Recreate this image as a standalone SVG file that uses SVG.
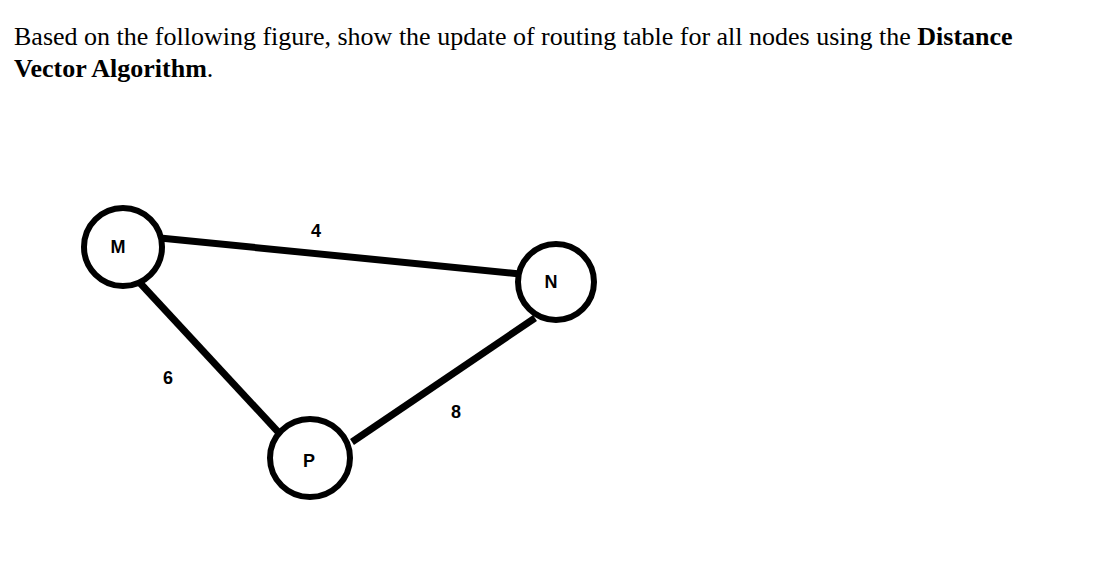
<svg xmlns="http://www.w3.org/2000/svg" width="1108" height="586" viewBox="0 0 1108 586">
<style>
.t{font-family:"Liberation Serif",serif;font-size:26px;fill:#000}
.n{fill:#fff;stroke:#000;stroke-width:6}
.l{font-family:"Liberation Sans",Arial,sans-serif;font-weight:bold;font-size:18px;fill:#000;text-anchor:middle}
.e{stroke:#000;stroke-width:7;fill:none}
</style>
<rect width="1108" height="586" fill="#fff"/>
<text class="t" x="14" y="45">Based on the following figure, show the update of routing table for all nodes using the <tspan font-weight="bold">Distance</tspan></text>
<text class="t" x="14" y="77"><tspan font-weight="bold">Vector Algorithm</tspan>.</text>
<g id="connectors">
<line class="e" x1="160" y1="238" x2="520" y2="274"/>
<line class="e" x1="140" y1="283" x2="280" y2="434"/>
<line class="e" x1="352" y1="442" x2="535" y2="318"/>
</g>
<g id="M"><ellipse class="n" cx="123" cy="247" rx="39" ry="39"/><text class="l" x="118" y="253">M</text></g>
<g id="N"><ellipse class="n" cx="556" cy="282" rx="38" ry="38"/><text class="l" x="551" y="288">N</text></g>
<g id="P"><ellipse class="n" cx="310" cy="458" rx="40" ry="39"/><text class="l" x="309" y="467">P</text></g>
<text class="l" x="316" y="237">4</text>
<text class="l" x="168" y="384">6</text>
<text class="l" x="456" y="418">8</text>
</svg>
